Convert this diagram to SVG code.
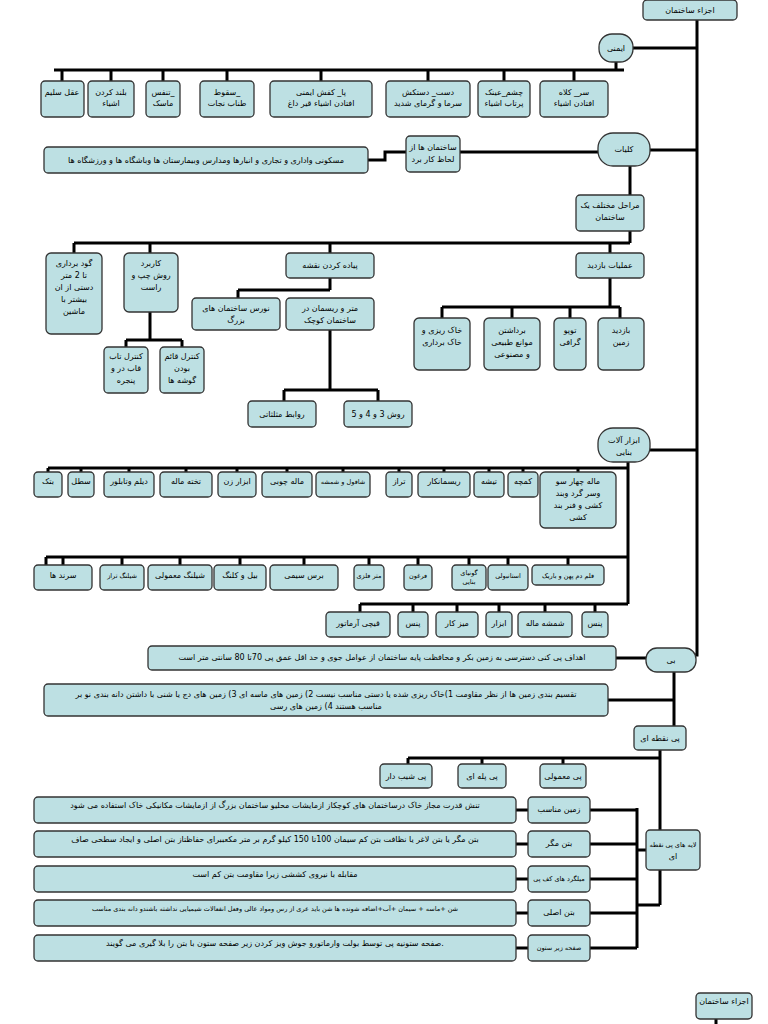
<svg xmlns="http://www.w3.org/2000/svg" width="768" height="1024" viewBox="0 0 768 1024">
<style>
.b{fill:#bde0e3;stroke:#333;stroke-width:1.3}
.l{fill:none;stroke:#000;stroke-width:3}
text{font-family:"DejaVu Sans","Noto Sans",sans-serif;font-size:8px;fill:#000;text-anchor:middle}
.s{font-size:6.5px}
</style>
<rect width="768" height="1024" fill="#fff"/>
<g id="connectors" class="l">
<path d="M697 20V655H690M633 48H697M616 62V70M54 70H624M62 70V81M111 70V81M163 70V81M227 70V81M321 70V81M428 70V81M504 70V81M574 70V81"/>
<path d="M650 150H697M460 152H598M368 160H385V152H406M630 166V195M630 231V243M74 243H630M74 243V253M150 243V253M330 243V253M610 243V253"/>
<path d="M330 278V290M238 290H330M238 290V298M330 330V390M284 390H378M284 390V401M378 390V401M150 312V340M126 340H182M126 340V347M182 340V347"/>
<path d="M610 278V307M442 307H620M442 307V318M512 307V318M570 307V318M620 307V318"/>
<path d="M650 450H697M628 462V604M48 468H628M48 468V472M81 468V472M129 468V472M186 468V472M237 468V472M287 468V472M343 468V472M399 468V472M444 468V472M489 468V472M523 468V472M578 468V472"/>
<path d="M46 557H628M46 557V565M63 557V565M122 557V565M180 557V565M240 557V565M304 557V565M369 557V565M418 557V565M469 557V565M508 557V565M568 557V565M360 604H628M360 604V612M413 604V612M457 604V612M499 604V612M545 604V612M595 604V612"/>
<path d="M616 658H646M674 672V726M608 700H674M660 750V905M408 758H660M408 758V764M482 758V764M563 758V764"/>
<path d="M660 905H637M637 808V948M637 850H646M637 810H590M637 844H590M637 879H590M637 913H590M637 948H590M516 810H528M516 844H528M516 879H528M516 913H528M516 948H528M716 1019V1024"/>
</g>
<g id="n0"><rect class="b" x="643" y="0" width="94" height="20" rx="4"/><text x="690" y="13">اجزاء ساختمان</text></g>
<g id="n1"><rect class="b" x="599" y="34" width="34" height="28" rx="13"/><text x="616" y="51">ایمنی</text></g>
<g id="s1"><rect class="b" x="41" y="81" width="43" height="36" rx="4"/><text x="62" y="95">عقل سلیم</text></g>
<g id="s2"><rect class="b" x="88" y="81" width="46" height="36" rx="4"/><text x="111" y="95">بلند کردن</text><text x="111" y="106">اشیاء</text></g>
<g id="s3"><rect class="b" x="146" y="81" width="34" height="36" rx="4"/><text x="163" y="95">تنفس_</text><text x="163" y="106">ماسک</text></g>
<g id="s4"><rect class="b" x="200" y="81" width="54" height="36" rx="4"/><text x="227" y="95">سقوط_</text><text x="227" y="106">طناب نجات</text></g>
<g id="s5"><rect class="b" x="270" y="81" width="102" height="36" rx="4"/><text x="321" y="95">پا_ کفش ایمنی</text><text x="321" y="106">افتادن اشیاء قیر داغ</text></g>
<g id="s6"><rect class="b" x="386" y="81" width="84" height="36" rx="4"/><text x="428" y="95">دست_ دستکش</text><text x="428" y="106">سرما و گرمای شدید</text></g>
<g id="s7"><rect class="b" x="478" y="81" width="52" height="36" rx="4"/><text x="504" y="95">چشم_عینک</text><text x="504" y="106">پرتاب اشیاء</text></g>
<g id="s8"><rect class="b" x="540" y="81" width="68" height="36" rx="4"/><text x="574" y="95">سر_ کلاه</text><text x="574" y="106">افتادن اشیاء</text></g>
<g id="n2"><rect class="b" x="598" y="133" width="52" height="33" rx="15"/><text x="624" y="152">کلیات</text></g>
<g id="k1"><rect class="b" x="406" y="136" width="54" height="36" rx="4"/><text x="433" y="150">ساختمان ها از</text><text x="433" y="162">لحاظ کار برد</text></g>
<g id="k2"><rect class="b" x="44" y="147" width="324" height="26" rx="4"/><text x="206" y="163">مسکونی واداری و تجاری و انبارها ومدارس وبیمارستان ها وباشگاه ها و ورزشگاه ها</text></g>
<g id="n3"><rect class="b" x="576" y="195" width="68" height="36" rx="4"/><text x="610" y="208">مراحل مختلف یک</text><text x="610" y="220">ساختمان</text></g>
<g id="m1"><rect class="b" x="46" y="253" width="56" height="81" rx="5"/><text x="74" y="266">گود برداری</text><text x="74" y="278">تا 2 متر</text><text x="74" y="290">دستی از ان</text><text x="74" y="302">بیشتر با</text><text x="74" y="314">ماشین</text></g>
<g id="m2"><rect class="b" x="124" y="253" width="54" height="59" rx="5"/><text x="151" y="266">کاربرد</text><text x="151" y="278">روش چپ و</text><text x="151" y="290">راست</text></g>
<g id="m3"><rect class="b" x="286" y="253" width="88" height="25" rx="4"/><text x="330" y="268">پیاده کردن نقشه</text></g>
<g id="m4"><rect class="b" x="576" y="253" width="68" height="25" rx="4"/><text x="610" y="268">عملیات بازدید</text></g>
<g id="m5"><rect class="b" x="192" y="298" width="88" height="32" rx="4"/><text x="236" y="311">نورس ساختمان های</text><text x="236" y="323">بزرگ</text></g>
<g id="m6"><rect class="b" x="286" y="298" width="88" height="32" rx="4"/><text x="330" y="311">متر و ریسمان در</text><text x="330" y="323">ساختمان کوچک</text></g>
<g id="m7"><rect class="b" x="248" y="401" width="68" height="26" rx="4"/><text x="282" y="417">روابط مثلثاتی</text></g>
<g id="m8"><rect class="b" x="344" y="401" width="68" height="26" rx="4"/><text x="378" y="417">روش 3 و 4 و 5</text></g>
<g id="m9"><rect class="b" x="104" y="347" width="44" height="46" rx="4"/><text x="126" y="359">کنترل تاب</text><text x="126" y="371">قاب در و</text><text x="126" y="383">پنجره</text></g>
<g id="m10"><rect class="b" x="160" y="347" width="44" height="46" rx="4"/><text x="182" y="359">کنترل قائم</text><text x="182" y="371">بودن</text><text x="182" y="383">گوشه ها</text></g>
<g id="b1"><rect class="b" x="414" y="318" width="56" height="52" rx="5"/><text x="442" y="333">خاک ریزی و</text><text x="442" y="345">خاک برداری</text></g>
<g id="b2"><rect class="b" x="484" y="318" width="56" height="52" rx="5"/><text x="512" y="333">برداشتن</text><text x="512" y="345">موانع طبیعی</text><text x="512" y="357">و مصنوعی</text></g>
<g id="b3"><rect class="b" x="554" y="318" width="32" height="52" rx="5"/><text x="570" y="333">توپو</text><text x="570" y="345">گرافی</text></g>
<g id="b4"><rect class="b" x="598" y="318" width="46" height="52" rx="5"/><text x="621" y="333">بازدید</text><text x="621" y="345">زمین</text></g>
<g id="n4"><rect class="b" x="598" y="428" width="52" height="34" rx="15"/><text x="624" y="443">ابزار آلات</text><text x="624" y="455">بنایی</text></g>
<g id="t1"><rect class="b" x="34" y="472" width="28" height="25" rx="4"/><text x="48" y="484">بتک</text></g>
<g id="t2"><rect class="b" x="68" y="472" width="26" height="25" rx="4"/><text x="81" y="484">سطل</text></g>
<g id="t3"><rect class="b" x="104" y="472" width="50" height="25" rx="4"/><text x="129" y="484">دیلم وتابلور</text></g>
<g id="t4"><rect class="b" x="160" y="472" width="52" height="25" rx="4"/><text x="186" y="484">تخته ماله</text></g>
<g id="t5"><rect class="b" x="218" y="472" width="38" height="25" rx="4"/><text x="237" y="484">ابزار زن</text></g>
<g id="t6"><rect class="b" x="262" y="472" width="50" height="25" rx="4"/><text x="287" y="484">ماله چوبی</text></g>
<g id="t7"><rect class="b" x="316" y="472" width="54" height="25" rx="4"/><text x="343" y="484" class="s">شاقول و شمشه</text></g>
<g id="t8"><rect class="b" x="386" y="472" width="26" height="25" rx="4"/><text x="399" y="484">تراز</text></g>
<g id="t9"><rect class="b" x="418" y="472" width="52" height="25" rx="4"/><text x="444" y="484">ریسمانکار</text></g>
<g id="t10"><rect class="b" x="474" y="472" width="30" height="25" rx="4"/><text x="489" y="484">تیشه</text></g>
<g id="t11"><rect class="b" x="508" y="472" width="30" height="25" rx="4"/><text x="523" y="484">کمچه</text></g>
<g id="t12"><rect class="b" x="540" y="472" width="76" height="56" rx="5"/><text x="578" y="484">ماله چهار سو</text><text x="578" y="496">وسر گرد وبند</text><text x="578" y="508">کشی و فنر بند</text><text x="578" y="520">کشی</text></g>
<g id="u1"><rect class="b" x="34" y="565" width="58" height="25" rx="4"/><text x="63" y="578">سرند ها</text></g>
<g id="u2"><rect class="b" x="100" y="565" width="44" height="25" rx="4"/><text x="122" y="578" class="s">شیلنگ تراز</text></g>
<g id="u3"><rect class="b" x="148" y="565" width="64" height="25" rx="4"/><text x="180" y="578">شیلنگ معمولی</text></g>
<g id="u4"><rect class="b" x="214" y="565" width="52" height="25" rx="4"/><text x="240" y="578">بیل و کلنگ</text></g>
<g id="u5"><rect class="b" x="270" y="565" width="68" height="25" rx="4"/><text x="304" y="578">برس سیمی</text></g>
<g id="u6"><rect class="b" x="354" y="565" width="30" height="25" rx="4"/><text x="369" y="578" class="s">متر فلزی</text></g>
<g id="u7"><rect class="b" x="404" y="565" width="28" height="25" rx="4"/><text x="418" y="578" class="s">فرغون</text></g>
<g id="u8"><rect class="b" x="452" y="565" width="34" height="25" rx="4"/><text x="469" y="575" class="s">گونیای</text><text x="469" y="584" class="s">بنایی</text></g>
<g id="u9"><rect class="b" x="488" y="565" width="40" height="25" rx="4"/><text x="508" y="578" class="s">استانبولی</text></g>
<g id="u10"><rect class="b" x="532" y="565" width="72" height="20" rx="4"/><text x="568" y="578" class="s">قلم دم پهن و باریک</text></g>
<g id="v1"><rect class="b" x="326" y="612" width="64" height="25" rx="4"/><text x="358" y="626">قیچی آرماتور</text></g>
<g id="v2"><rect class="b" x="398" y="612" width="30" height="25" rx="4"/><text x="413" y="626">پنس</text></g>
<g id="v3"><rect class="b" x="436" y="612" width="42" height="25" rx="4"/><text x="457" y="626">میز کار</text></g>
<g id="v4"><rect class="b" x="486" y="612" width="26" height="25" rx="4"/><text x="499" y="626">ابزار</text></g>
<g id="v5"><rect class="b" x="518" y="612" width="54" height="25" rx="4"/><text x="545" y="626">شمشه ماله</text></g>
<g id="v6"><rect class="b" x="582" y="612" width="26" height="25" rx="4"/><text x="595" y="626">پنس</text></g>
<g id="n5"><rect class="b" x="646" y="648" width="50" height="24" rx="11"/><text x="671" y="663">بی</text></g>
<g id="p1"><rect class="b" x="148" y="646" width="468" height="24" rx="4"/><text x="382" y="660">اهداف پی کنی دسترسی به زمین بکر و محافظت پایه ساختمان از عوامل جوی و حد اقل عمق پی 70تا 80 سانتی متر است</text></g>
<g id="p2"><rect class="b" x="44" y="684" width="564" height="32" rx="4"/><text x="326" y="697">تقسیم بندی زمین ها از نظر مقاومت 1)خاک ریزی شده یا دستی مناسب نیست 2) زمین های ماسه ای 3) زمین های دج یا شنی با داشتن دانه بندی نو بر</text><text x="326" y="709">مناسب هستند 4) زمین های رسی</text></g>
<g id="n6"><rect class="b" x="634" y="726" width="52" height="24" rx="4"/><text x="660" y="741">پی نقطه ای</text></g>
<g id="q1"><rect class="b" x="380" y="764" width="52" height="24" rx="4"/><text x="406" y="779">پی شیب دار</text></g>
<g id="q2"><rect class="b" x="458" y="764" width="48" height="24" rx="4"/><text x="482" y="779">پی پله ای</text></g>
<g id="q3"><rect class="b" x="540" y="764" width="46" height="24" rx="4"/><text x="563" y="779">پی معمولی</text></g>
<g id="n7"><rect class="b" x="646" y="830" width="54" height="40" rx="4"/><text x="673" y="847" class="s">لایه های پی نقطه</text><text x="673" y="859">ای</text></g>
<g id="r1"><rect class="b" x="528" y="797" width="62" height="26" rx="4"/><text x="559" y="812">زمین مناسب</text><rect class="b" x="34" y="797" width="482" height="26" rx="4"/><text x="275" y="808">تنش قدرت مجاز خاک درساختمان های کوچکاز ازمایشات محلیو ساختمان بزرگ از ازمایشات مکانیکی خاک استفاده می شود</text></g>
<g id="r2"><rect class="b" x="528" y="831" width="62" height="26" rx="4"/><text x="559" y="846">بتن مگر</text><rect class="b" x="34" y="831" width="482" height="26" rx="4"/><text x="275" y="842">بتن مگر یا بتن لاغر یا نظافت بتن کم سیمان 100تا 150 کیلو گرم بر متر مکعببرای حفاظتاز بتن اصلی و ایجاد سطحی صاف</text></g>
<g id="r3"><rect class="b" x="528" y="866" width="62" height="26" rx="4"/><text x="559" y="881" class="s">میلگرد های کف پی</text><rect class="b" x="34" y="866" width="482" height="26" rx="4"/><text x="275" y="877">مقابله با نیروی کششی زیرا مقاومت بتن کم است</text></g>
<g id="r4"><rect class="b" x="528" y="900" width="62" height="26" rx="4"/><text x="559" y="915">بتن اصلی</text><rect class="b" x="34" y="900" width="482" height="26" rx="4"/><text x="275" y="911" class="s">شن +ماسه + سیمان +آب+اضافه شونده ها شن باید عری از رس ومواد عالی وفعل انفعالات شیمیایی نداشته باشندو دانه بندی مناسب</text></g>
<g id="r5"><rect class="b" x="528" y="935" width="62" height="26" rx="4"/><text x="559" y="950" class="s">صفحه زیر ستون</text><rect class="b" x="34" y="935" width="482" height="26" rx="4"/><text x="275" y="946">صفحه ستونیه پی توسط بولت وارماتورو جوش ویز کردن زیر صفحه ستون با بتن را بلا گیری می گویند.</text></g>
<g id="n8"><rect class="b" x="696" y="993" width="56" height="26" rx="4"/><text x="724" y="1004">اجزاء ساختمان</text></g>
</svg>
